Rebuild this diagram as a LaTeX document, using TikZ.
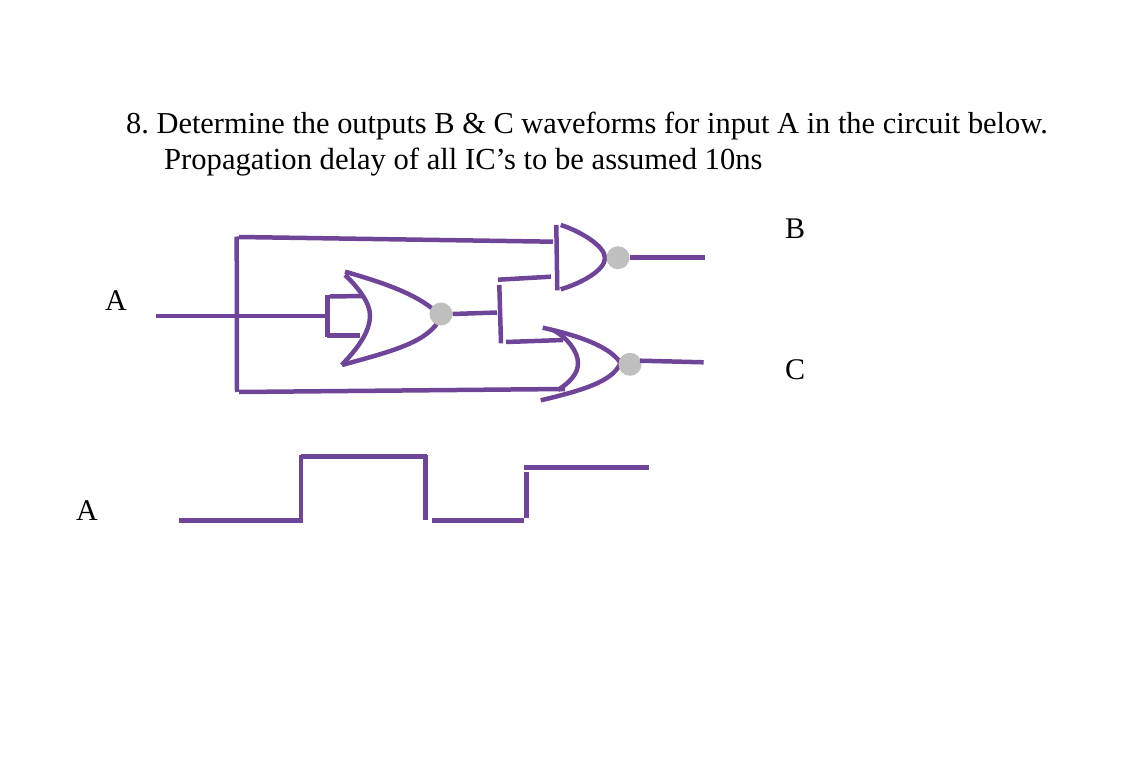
\documentclass[tikz,border=0pt]{standalone}
\usepackage{fontspec}
\setmainfont{Liberation Serif}
\frenchspacing
\definecolor{wire}{HTML}{6F4599}
\definecolor{bub}{HTML}{BFBFBF}
\tikzset{
  x=1pt,y=-1pt,
  wirel/.style={draw=wire,line width=4.5pt},
  bubble/.style={circle,fill=bub,draw=none,minimum size=23pt,inner sep=0pt},
  title/.style={anchor=base west,inner sep=0pt,font=\fontsize{30.6}{31}\selectfont},
  titlea/.style={anchor=base west,inner sep=0pt,font=\fontsize{30.4}{31}\selectfont},
  lab/.style={anchor=center,inner sep=0pt,font=\fontsize{30}{30}\selectfont}
}
\begin{document}
\begin{tikzpicture}
\useasboundingbox (0,0) rectangle (1124,778);
\node[titlea] (t1) at (126,134) {8. Determine the outputs B \& C waveforms for input A in the circuit below.};
\node[title] (t2) at (164,170) {Propagation delay of all IC’s to be assumed 10ns};
\node[lab] (la) at (116,301) {A};
\node[lab] (lb) at (795,229) {B};
\node[lab] (lc) at (795,370) {C};
\node[lab] (la2) at (87,511) {A};
% gate bodies
\draw[wirel] (345,271.7) .. controls (385,283) and (415,294) .. (434,310);
\draw[wirel] (342,365) .. controls (385,353) and (424,344) .. (438,322);
\draw[wirel] (345,275) .. controls (358,287) and (370,303) .. (370,315) .. controls (370,332) and (358,348) .. (341.7,365);
\draw[wirel] (556.3,225) -- (557.3,290.3);
\draw[wirel] (560.7,225) .. controls (580,231) and (605,246) .. (605,258) .. controls (605,270) and (582,283) .. (560.7,289.3);
\draw[wirel] (542.7,327.7) .. controls (580,336) and (608,346) .. (620,362);
\draw[wirel] (540.7,400.3) .. controls (580,391) and (612,382) .. (620,364);
\draw[wirel] (553,330) .. controls (568,338) and (578,352) .. (578,363) .. controls (578,374) and (570,382) .. (558,390);
% bubbles
\node[bubble] (b1) at (441,314) {};
\node[bubble] (b2) at (618,257.7) {};
\node[bubble] (b3) at (630,364.3) {};
% coordinates
\coordinate (ain) at (156,316);
\coordinate (boxl) at (327,316);
\coordinate (vt) at (236.7,236.5);
\coordinate (vb) at (237,392);
\coordinate (tl) at (239,237);
\coordinate (tr) at (553,241.7);
\coordinate (bl) at (239,392);
\coordinate (br) at (565,389);
\coordinate (boxt) at (327.3,295);
\coordinate (boxb) at (327.3,337);
\coordinate (bt1) at (330,296.5);
\coordinate (bt2) at (362,296);
\coordinate (bb1) at (327,335.5);
\coordinate (bb2) at (360,335.5);
\coordinate (m1) at (497,312.5);
\coordinate (sp1) at (499.3,285);
\coordinate (sp2) at (501,343.3);
\coordinate (u1) at (498,279.7);
\coordinate (u2) at (551,276.7);
\coordinate (l1) at (506,342);
\coordinate (l2) at (563,340);
\coordinate (o1) at (705,257.7);
\coordinate (o2s) at (640,360.7);
\coordinate (o2) at (703.7,362.3);
% wires
\draw[wirel] (ain) -- (boxl);
\draw[wirel] (vt) -- (vb);
\draw[wirel] (tl) -- (tr);
\draw[wirel] (bl) -- (br);
\draw[wirel] (boxt) -- (boxb);
\draw[wirel] (bt1) -- (bt2);
\draw[wirel] (bb1) -- (bb2);
\draw[wirel] (b1.east) -- (m1);
\draw[wirel] (sp1) -- (sp2);
\draw[wirel] (u1) -- (u2);
\draw[wirel] (l1) -- (l2);
\draw[wirel] (b2.east) -- (o1);
\draw[wirel] (o2s) -- (o2);
% waveform
\coordinate (w1) at (178.7,520.3);
\coordinate (w2) at (303.3,520.3);
\coordinate (w3) at (301,520.3);
\coordinate (w4) at (301,455);
\coordinate (w5) at (301,456.7);
\coordinate (w6) at (427,456.7);
\coordinate (w7) at (425.7,455);
\coordinate (w8) at (425.7,520.3);
\coordinate (w9) at (432.3,520.3);
\coordinate (w10) at (524,520.3);
\coordinate (w11) at (526.3,472.3);
\coordinate (w12) at (526.3,518.3);
\coordinate (w13) at (524,467.7);
\coordinate (w14) at (649,467.7);
\draw[wirel] (w1) -- (w2);
\draw[wirel] (w3) -- (w4);
\draw[wirel] (w5) -- (w6);
\draw[wirel] (w7) -- (w8);
\draw[wirel] (w9) -- (w10);
\draw[wirel] (w11) -- (w12);
\draw[wirel] (w13) -- (w14);
\end{tikzpicture}
\end{document}
